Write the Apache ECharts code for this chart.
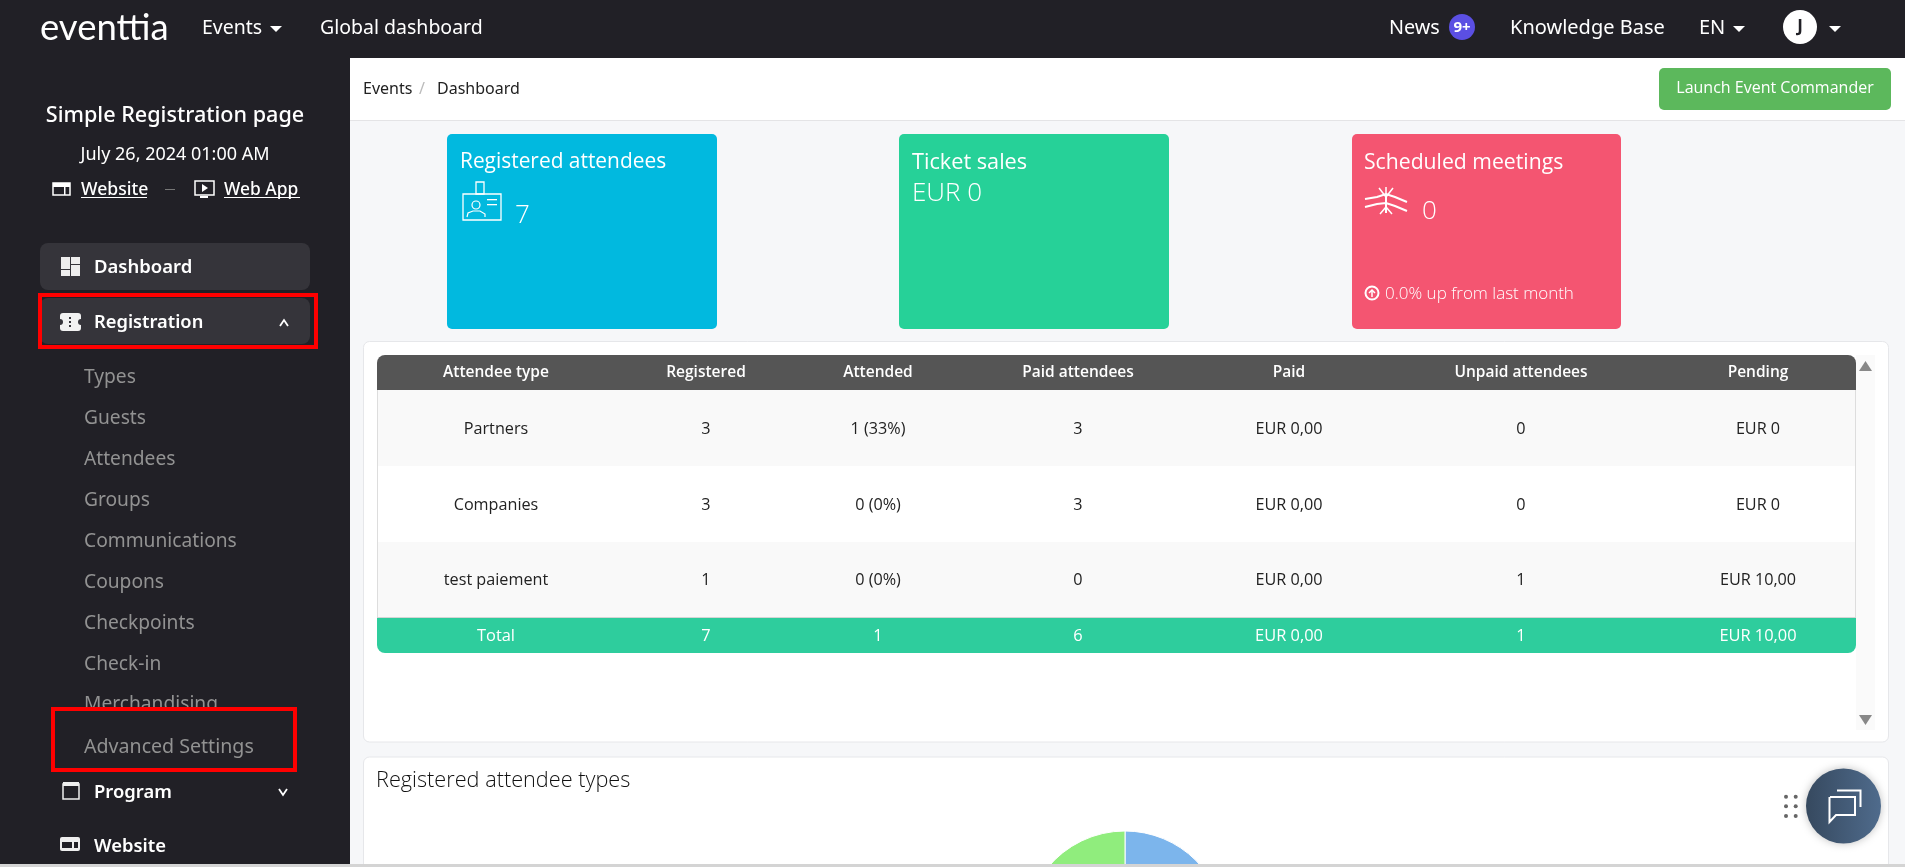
<!DOCTYPE html>
<html>
<head>
<meta charset="utf-8">
<title>Dashboard</title>
<script src="https://cdn.jsdelivr.net/npm/echarts@6/dist/echarts.min.js"></script>
<style>
html, body { margin: 0; padding: 0; background: #f6f7f9; overflow: hidden; }
#main { width: 1905px; height: 867px; }
</style>
</head>
<body>
<div id="main"></div>
<script>
// table
const attendeeTypes = ['Partners', 'Companies', 'test paiement'];
const registered = [3, 3, 1];
const attended = ['1 (33%)', '0 (0%)', '0 (0%)'];
const paidAttendees = [3, 3, 0];
const paid = ['EUR 0,00', 'EUR 0,00', 'EUR 0,00'];
const unpaidAttendees = [0, 0, 1];
const pending = ['EUR 0', 'EUR 0', 'EUR 10,00'];
const tableHeader = ['Attendee type', 'Registered', 'Attended', 'Paid attendees', 'Paid', 'Unpaid attendees', 'Pending'];
const tableTotal = ['Total', 7, 1, 6, 'EUR 0,00', 1, 'EUR 10,00'];

// pie
const pieColors = ['#7cb5ec', '#434348', '#90ed7d'];

// sidebar
const registrationItems = ['Types', 'Guests', 'Attendees', 'Groups', 'Communications', 'Coupons', 'Checkpoints', 'Check-in', 'Merchandising'];

const sansUi = '"Noto Sans"';
const sansThin = '"Open Sans"';
const sidebarBg = '#212026';
const pillBg = '#35343a';

const colX = [496, 706, 878, 1078, 1289, 1521, 1758];
const rowY = [427, 503, 578];

let els = [];

function txt(x, y, text, size, color, opt) {
	opt = opt || {};
	els.push({
		type: 'text',
		z: opt.z || 3,
		style: {
			x: x,
			y: y + 2,
			text: String(text),
			fill: color,
			font: (opt.weight || 400) + ' ' + size + 'px ' + (opt.family || sansUi),
			textAlign: opt.align || 'left',
			textVerticalAlign: 'middle'
		}
	});
}
function box(x, y, w, h, fill, opt) {
	opt = opt || {};
	els.push({
		type: 'rect',
		z: opt.z || 1,
		shape: { x: x, y: y, width: w, height: h, r: opt.r || 0 },
		style: { fill: fill, stroke: opt.stroke || null, lineWidth: opt.lw || 1 }
	});
}
function poly(points, color, opt) {
	opt = opt || {};
	els.push({
		type: opt.fill ? 'polygon' : 'polyline',
		z: opt.z || 3,
		shape: { points: points },
		style: opt.fill ? { fill: color } : { fill: null, stroke: color, lineWidth: opt.lw || 1.5 }
	});
}
function dot(x, y, r, fill, opt) {
	opt = opt || {};
	els.push({
		type: 'circle',
		z: opt.z || 3,
		shape: { cx: x, cy: y, r: r },
		style: { fill: fill, stroke: opt.stroke || null, lineWidth: opt.lw || 1 }
	});
}
function caret(x, y) {
	poly([[x, y], [x + 12, y], [x + 6, y + 6]], '#fff', { fill: true });
}
function chevron(x, y, up) {
	let d = up ? -3 : 3;
	poly([[x - 4, y - d], [x, y + d], [x + 4, y - d]], '#fff', { lw: 1.8 });
}

// page frames
box(0, 0, 1905, 58, sidebarBg);
box(0, 58, 350, 809, sidebarBg);
box(350, 58, 1555, 62, '#fff');
box(350, 120, 1555, 1, '#e4e4e6');

// top bar
txt(40, 26, 'eventtia', 36.5, '#fff', { family: 'Lato' });
txt(202, 26.5, 'Events', 19.5, '#fff');
caret(270, 26);
txt(320, 26.5, 'Global dashboard', 19.5, '#fff');
txt(1389, 26.5, 'News', 19.8, '#fff');
dot(1462, 27, 13, '#5b4fe3');
txt(1462, 25.5, '9+', 15, '#fff', { align: 'center', weight: 700 });
txt(1510, 26.5, 'Knowledge Base', 20, '#fff');
txt(1699, 26.5, 'EN', 20, '#fff');
caret(1733, 26);
dot(1800, 27, 17, '#fff');
txt(1800, 25.5, 'J', 17, '#212026', { align: 'center', weight: 700 });
caret(1829, 26);

// event block
txt(175, 114, 'Simple Registration page', 21.6, '#fff', { align: 'center', weight: 500 });
txt(175, 153, 'July 26, 2024 01:00 AM', 18, '#fff', { align: 'center' });
box(53, 183, 17, 12, null, { stroke: '#fff', lw: 1.5, z: 3 });
box(53, 183, 17, 4, '#fff', { z: 3 });
box(64, 187, 1.5, 8, '#fff', { z: 3 });
txt(81, 188, 'Website', 17.6, '#fff', { weight: 500 });
box(81, 197, 66, 1, '#fff', { z: 3 });
box(165, 189, 10, 1, '#777', { z: 3 });
box(195, 181, 19, 14, null, { stroke: '#fff', lw: 1.5, z: 3 });
poly([[202, 184], [202, 192], [208, 188]], '#fff', { fill: true });
box(200, 196, 8, 2, '#fff', { z: 3 });
txt(224, 188, 'Web App', 17.4, '#fff', { weight: 500 });
box(224, 197, 76, 1, '#fff', { z: 3 });

// menu
box(40, 243, 270, 47, pillBg, { r: 8 });
box(61, 257, 9, 12, '#eee', { z: 3 });
box(71, 257, 9, 7, '#eee', { z: 3 });
box(61, 270, 9, 6, '#eee', { z: 3 });
box(71, 265, 9, 11, '#eee', { z: 3 });
txt(94, 266, 'Dashboard', 18.5, '#fff', { weight: 600 });

box(40, 298, 270, 46, pillBg, { r: 8 });
box(40, 295, 276, 52, null, { stroke: '#f00', lw: 4, z: 4 });
box(60, 313, 21, 18, '#f2f2f2', { r: 3, z: 3 });
dot(60, 322, 3, pillBg);
dot(81, 322, 3, pillBg);
box(69, 317, 2, 2, pillBg, { z: 4 });
box(69, 321, 2, 2, pillBg, { z: 4 });
box(69, 325, 2, 2, pillBg, { z: 4 });
txt(94, 321, 'Registration', 18.3, '#fff', { weight: 600 });
chevron(284, 323, true);

registrationItems.forEach(function (name, i) {
	txt(84, [376, 417, 458, 499, 540, 581, 622, 663, 703][i], name, 19.2, '#929292');
});
box(53, 709, 242, 61, sidebarBg, { stroke: '#f00', lw: 4, z: 4 });
txt(84, 745, 'Advanced Settings', 19.6, '#929292', { z: 5 });

box(63, 784, 16, 15, null, { stroke: '#eee', lw: 1.5, z: 5 });
box(63, 782, 16, 4, '#eee', { z: 5 });
txt(94, 791, 'Program', 18.4, '#fff', { weight: 600 });
chevron(283, 792, false);
box(60, 837, 20, 14, '#eee', { r: 2, z: 5 });
box(62, 842, 10, 6, sidebarBg, { z: 6 });
box(74, 842, 4, 6, sidebarBg, { z: 6 });
txt(94, 845, 'Website', 18.4, '#fff', { weight: 600 });

// breadcrumb
txt(363, 87, 'Events', 16, '#222');
txt(419, 87, '/', 16, '#bbb');
txt(437, 87, 'Dashboard', 16, '#222');
box(1659, 68, 232, 42, '#5cb85c', { r: 5 });
txt(1775, 86, 'Launch Event Commander', 16, '#fff', { align: 'center', family: sansThin });

// cards
box(447, 134, 270, 195, '#01b9df', { r: 5 });
box(899, 134, 270, 195, '#26d198', { r: 5 });
box(1352, 134, 269, 195, '#f45571', { r: 5 });
txt(460, 160.5, 'Registered attendees', 20.9, '#fff', { family: sansThin });
box(463, 194, 38, 26, null, { stroke: '#fff', lw: 1.3, z: 3 });
box(476, 182, 8, 12, null, { stroke: '#fff', lw: 1.3, z: 3 });
dot(476, 205, 4, null, { stroke: '#fff', lw: 1.2 });
poly([[467, 217], [468, 213], [473, 211], [480, 211], [485, 214], [485, 217]], '#fff', { lw: 1.2 });
box(487, 199, 10, 1.3, '#fff', { z: 3 });
box(487, 204, 10, 1.3, '#fff', { z: 3 });
txt(515, 214, '7', 26, '#fff', { family: sansThin, weight: 300 });

txt(912, 160.5, 'Ticket sales', 21.7, '#fff', { family: sansThin });
txt(912, 191.5, 'EUR 0', 26, '#fff', { family: sansThin, weight: 300 });

txt(1364, 160.5, 'Scheduled meetings', 21.2, '#fff', { family: sansThin });
poly([[1365, 199], [1377, 197], [1386, 194], [1395, 197], [1407, 202]], '#fff', { lw: 2 });
poly([[1365, 207], [1377, 204], [1386, 203], [1395, 206], [1407, 211]], '#fff', { lw: 2 });
poly([[1386, 194], [1386, 213]], '#fff', { lw: 2 });
poly([[1379, 188], [1386, 197], [1393, 188]], '#fff');
poly([[1380, 214], [1386, 207], [1392, 214]], '#fff');
poly([[1386, 187], [1386, 194]], '#fff');
txt(1422, 210, '0', 26, '#fff', { family: sansThin, weight: 300 });
dot(1372, 293, 6.5, null, { stroke: '#fff', lw: 2 });
poly([[1369, 293], [1372, 290], [1375, 293]], '#fff', { lw: 1.5 });
poly([[1372, 290], [1372, 297]], '#fff', { lw: 1.5 });
txt(1385, 292.5, '0.0% up from last month', 17, '#fff', { family: sansThin, weight: 300 });

// table panel
box(363.5, 341.5, 1525, 400.5, '#fff', { r: 6, stroke: '#e6e7ea' });
box(377, 355, 1479, 35, '#555', { r: [8, 8, 0, 0], z: 2 });
box(377, 390, 1479, 76, '#f9f9f9', { z: 2 });
box(377, 466, 1479, 76, '#fff', { z: 2 });
box(377, 542, 1479, 76, '#f9f9f9', { z: 2 });
box(377, 390, 1, 228, '#ddd', { z: 2 });
box(1855, 390, 1, 228, '#ddd', { z: 2 });
box(377, 618, 1479, 35, '#2ecd9d', { r: [0, 0, 8, 8], z: 2 });
box(377, 617, 1479, 1, '#d5d5d5', { z: 2 });
tableHeader.forEach(function (name, i) {
	txt(colX[i], 370.5, name, 15.5, '#fff', { align: 'center', weight: 600, family: sansThin });
	txt(colX[i], 634, tableTotal[i], 16.4, '#fff', { align: 'center', family: sansThin });
});
[attendeeTypes, registered, attended, paidAttendees, paid, unpaidAttendees, pending].forEach(function (col, i) {
	col.forEach(function (value, r) {
		txt(colX[i], rowY[r], value, 16.2, '#222', { align: 'center', family: sansThin });
	});
});
// scrollbar
box(1856, 355, 19, 375, '#fafafa', { z: 2 });
poly([[1859, 371], [1872, 371], [1865.5, 361]], '#888', { fill: true });
poly([[1859, 715], [1872, 715], [1865.5, 725]], '#888', { fill: true });

// pie panel
box(363.5, 757, 1525, 130, '#fff', { r: 6, stroke: '#e6e7ea' });
txt(376, 779, 'Registered attendee types', 21.7, '#111', { family: sansThin, weight: 300 });

// chat widget
els.push({
	type: 'circle',
	z: 10,
	shape: { cx: 1843.5, cy: 806, r: 37.5 },
	style: {
		fill: new echarts.graphic.LinearGradient(0, 0, 1, 0, [{ offset: 0, color: '#36495f' }, { offset: 1, color: '#4f6b8c' }]),
		shadowBlur: 8,
		shadowColor: 'rgba(0,0,0,0.25)'
	}
});
poly([[1830, 797], [1855, 797], [1855, 815], [1836, 815], [1829.5, 822], [1829.5, 797]], '#fff', { lw: 2, z: 11 });
poly([[1837, 790.5], [1860.5, 790.5], [1860.5, 807]], '#fff', { lw: 2, z: 11 });
[796.7, 806.3, 816].forEach(function (y) {
	dot(1786, y, 2, '#666', { z: 11 });
	dot(1795.7, y, 2, '#666', { z: 11 });
});

// window edge
box(0, 864, 1905, 3, '#d4d4d4', { z: 12 });

let myChart = echarts.init(document.getElementById('main'));
let option = {
	animation: false,
	backgroundColor: '#f6f7f9',
	tooltip: { show: false },
	graphic: { elements: els },
	series: [{
		name: 'Registered attendee types',
		type: 'pie',
		z: 5,
		center: [1125, 931],
		radius: 100,
		startAngle: 90,
		clockwise: true,
		silent: true,
		label: { show: false },
		labelLine: { show: false },
		itemStyle: { borderColor: '#fff', borderWidth: 1 },
		data: attendeeTypes.map(function (name, i) {
			return { name: name, value: registered[i], itemStyle: { color: pieColors[i] } };
		})
	}]
};
myChart.setOption(option);
</script>
</body>
</html>
